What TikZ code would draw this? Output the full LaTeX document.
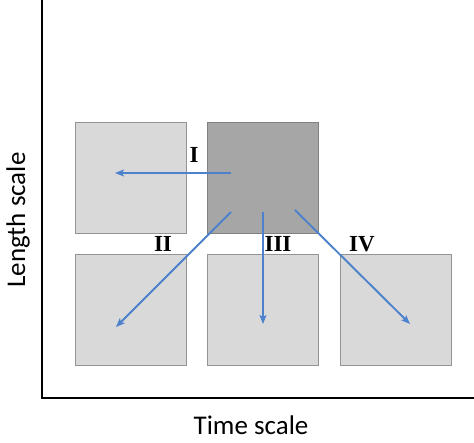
\documentclass[tikz,border=0pt]{standalone}
\usepackage{fontspec}
\setmainfont{Liberation Serif}
\newfontfamily\labelfont{Carlito}
\usepackage{tikz}
\usetikzlibrary{arrows.meta}
\usetikzlibrary{calc}
\definecolor{lightgrey}{rgb}{0.85, 0.85, 0.85}
\definecolor{darkgrey}{rgb}{0.65, 0.65, 0.65}
\definecolor{edgegrey}{rgb}{0.58, 0.58, 0.58}
\definecolor{steelblue}{rgb}{0.30, 0.51, 0.80}
\tikzset{
  cell/.style={draw=edgegrey, fill=lightgrey, line width=0.8pt, minimum size=\side pt, inner sep=0pt},
  flow/.style={line width=1.9pt, steelblue, -{Stealth[length=9pt, width=7pt, inset=2pt]}}
}

\begin{document}
\begin{tikzpicture}[x=1pt, y=-1pt]
						\def\side{111}
						\useasboundingbox (0,0) rectangle (474,443);

						\coordinate (top) at (42,0);
						\coordinate (corner) at (42,398);
						\coordinate (far) at (474,398);
						\draw[line width=1.8pt] (top) -- (corner) -- (far);

						\node[rotate=90] (length) at (18,220) {\labelfont\fontsize{27}{31}\selectfont Length scale};
						\node (time) at (251,425) {\labelfont\fontsize{27}{31}\selectfont Time scale};

						\node[cell] (west) at (130.5,177.5) {};
						\node[cell, fill=darkgrey, draw=gray] (start) at (262.5,177.5) {};
						\node[cell] (south1) at (130.5,310) {};
						\node[cell] (south2) at (262.5,310) {};
						\node[cell] (south3) at (395.5,310) {};

						\node (I) at (194,155) {\fontsize{23}{27}\selectfont\bfseries I};
						\node (II) at (163,244) {\fontsize{23}{27}\selectfont\bfseries II};
						\node (III) at (278,244) {\fontsize{23}{27}\selectfont\bfseries III};
						\node (IV) at (362,244) {\fontsize{23}{27}\selectfont\bfseries IV};

						\coordinate (o1) at (231,173);
						\coordinate (o2) at (231,212);
						\coordinate (o3) at (263,212);
						\coordinate (o4) at (295,210);

						\coordinate (O1) at (115,173);
						\coordinate (O2) at (116,327);
						\coordinate (O3) at (263,324);
						\coordinate (O4) at (410,324);

						\draw[flow] (o1) -- (O1);
						\draw[flow] (o2) -- (O2);
						\draw[flow] (o3) -- (O3);
						\draw[flow] (o4) -- (O4);
					\end{tikzpicture}
\end{document}
